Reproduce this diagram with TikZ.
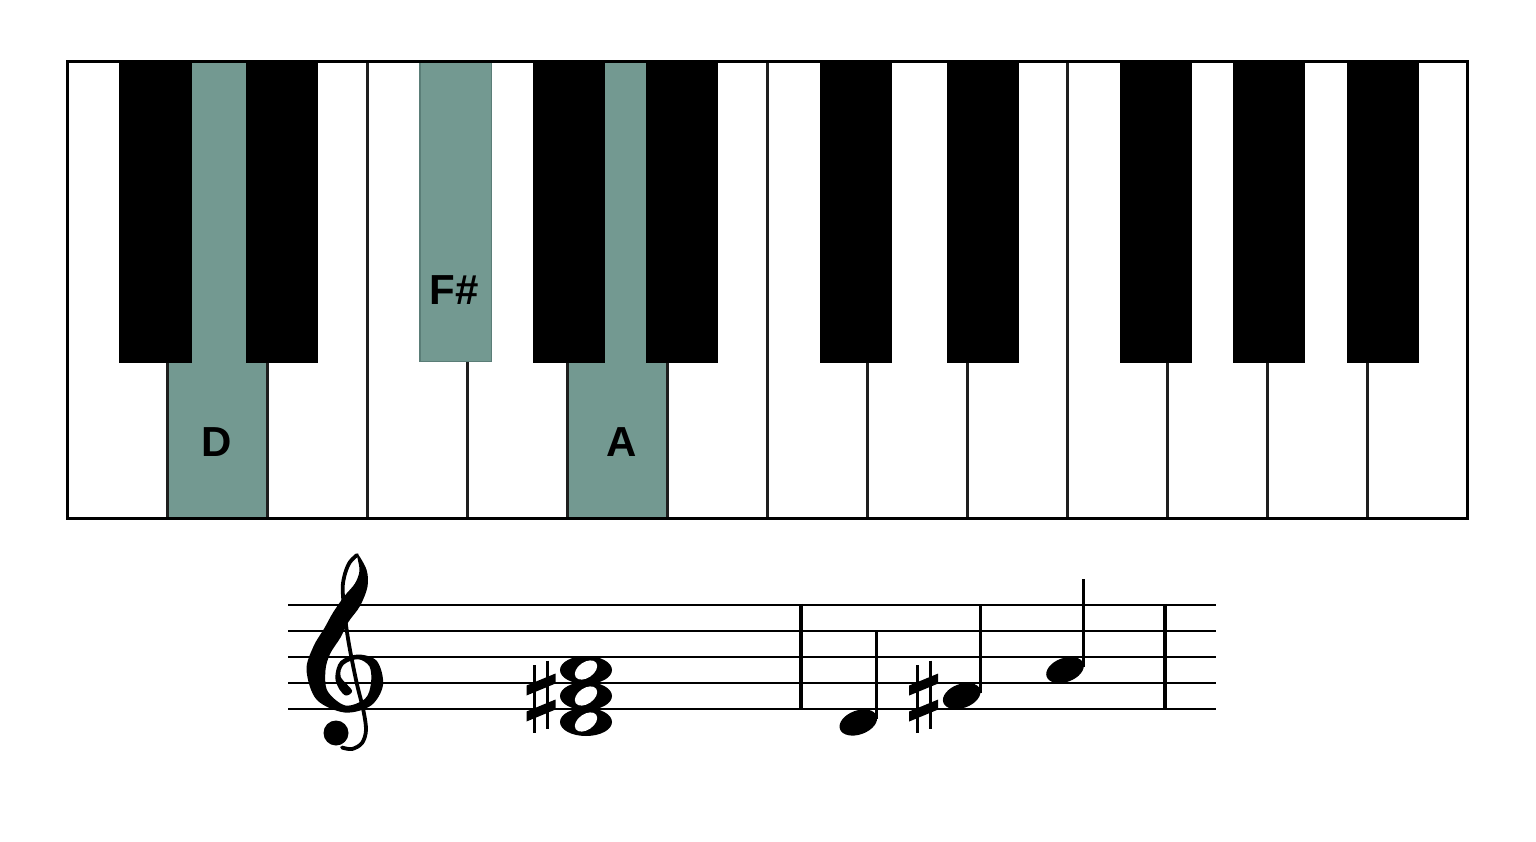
\documentclass[tikz,border=0pt]{standalone}
\usepackage{fontspec}
\setmainfont{Liberation Sans}
\definecolor{keyteal}{HTML}{739991}
\definecolor{keyedge}{HTML}{5A7D77}
\definecolor{divgrey}{HTML}{1E1E1E}
\tikzset{
  divider/.style={line width=3pt, draw=divgrey},
  blackkey/.style={fill=black},
  keylabel/.style={font=\bfseries\fontsize{42}{42}\selectfont, text=black, inner sep=0pt},
  staffline/.style={line width=2.5pt, draw=black},
  barline/.style={line width=4pt, draw=black},
  notestem/.style={line width=3pt, draw=black},
  sharpglyph/.pic={
    \draw[line width=3.2pt] (-6.5,-32.5) -- (-6.5,35);
    \draw[line width=3.2pt] (6.5,-37) -- (6.5,31);
    \fill (-14.5,-12) -- (14.5,-24) -- (14.5,-14) -- (-14.5,-2) -- cycle;
    \fill (-14.5,14) -- (14.5,2) -- (14.5,12) -- (-14.5,24) -- cycle;
  }
}
\begin{document}
\begin{tikzpicture}[x=1pt,y=-1pt]
\useasboundingbox (0,0) rectangle (1536,842);
\fill[white] (0,0) rectangle (1536,842);
% ---------- keyboard ----------
\fill[white] (67,61.5) rectangle (1467.5,518.5);
\fill[keyteal] (167,61.5) rectangle (267,518.5);
\fill[keyteal] (567,61.5) rectangle (667,518.5);
\foreach \i in {1,2,4,5,6,8,9,11,12,13}
  \draw[divider] ({67+100*\i},362) -- ({67+100*\i},518.5);
\foreach \i in {3,7,10}
  \draw[divider] ({67+100*\i},61.5) -- ({67+100*\i},518.5);
\foreach \a in {119.3,246,532.7,646,819.8,946.5,1233,1346.5,1119.8}
  \fill[blackkey] (\a,61.5) rectangle ++(72.3,301.5);
\filldraw[fill=keyteal, draw=keyedge, line width=1.2pt] (419.9,62) rectangle (491.3,361.8);
\draw[line width=3pt] (67,61.5) rectangle (1467.5,518.5);
\node[keylabel] (labD) at (217,442.5) {D};
\node[keylabel] (labFs) at (454,290) {F\#};
\node[keylabel] (labA) at (621.5,442.5) {A};
% ---------- staff ----------
\foreach \k in {0,...,4}
  \draw[staffline] (288,{605+26*\k}) -- (1216,{605+26*\k});
\draw[barline] (801,603.8) -- (801,710.2);
\draw[barline] (1164.5,603.8) -- (1164.5,710.2);
% ---------- treble clef ----------
\fill plot[smooth cycle, tension=0.55] coordinates {
  (357,553.5) (359.5,570.3) (355,583.4) (344.5,596) (333.2,612.3)
  (324.2,628.5) (313.5,646.4) (306.5,670) (316.5,699.5) (344.6,712.5)
  (371,705.5) (383,685) (377,661.2) (358,654.5) (340.3,661.3)
  (335.3,677.3) (339.5,689.5) (346,695.5) (352,690.5) (340.7,676.7)
  (343.7,664.7) (358,659.2) (369.5,666.5) (371,683) (365.2,698.6)
  (345.4,705.5) (327.5,691) (325.5,670) (330.2,653.6) (340.5,637.5)
  (348.5,621.8) (360,606) (367.5,586.6) (366.5,569.7)};
\draw[line width=3.8pt, line cap=round] plot[smooth, tension=0.55] coordinates {
  (357,555) (350,562) (345.5,572) (342.8,585) (343.3,600) (346,625)
  (350,650) (356.7,683) (363.3,710) (366,730) (362,743) (352,749) (342,747.5)};
\fill (336,733) circle (12.5);
% ---------- chord (whole notes) ----------
\pic (shA) at (541,697.5) {sharpglyph};
\foreach \y in {670,696,722}
  \fill (586,\y) ellipse (26 and 14);
\foreach \y in {670,696,722}
  \fill[white, rotate around={35:(586,\y)}] (586,\y) ellipse (12.5 and 7.8);
% ---------- quarter notes ----------
\fill[rotate around={20:(858.3,722.5)}] (858.3,722.5) ellipse (19.5 and 12);
\draw[notestem] (876.8,631.5) -- (876.8,719);
\pic (shB) at (923.7,697.5) {sharpglyph};
\fill[rotate around={20:(961.7,696)}] (961.7,696) ellipse (19.5 and 12);
\draw[notestem] (980.2,605.5) -- (980.2,693);
\fill[rotate around={20:(1065,670)}] (1065,670) ellipse (19.5 and 12);
\draw[notestem] (1083.3,579) -- (1083.3,667);
\end{tikzpicture}
\end{document}
